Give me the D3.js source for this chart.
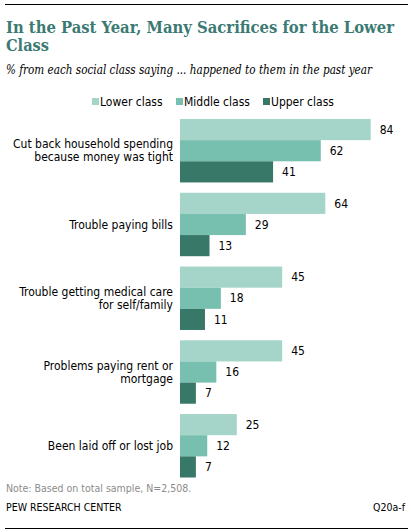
<!DOCTYPE html>
<html>
<head>
<meta charset="utf-8">
<script src="https://cdn.jsdelivr.net/npm/d3@7"></script>
<style>
  body { margin: 0; background: #fff; }
  svg text { font-family: "DejaVu Sans Condensed", "DejaVu Sans", sans-serif; }
</style>
</head>
<body>
<div id="chart"></div>
<script>
var categories = [
  ["Cut back household spending", "because money was tight"],
  ["Trouble paying bills"],
  ["Trouble getting medical care", "for self/family"],
  ["Problems paying rent or", "mortgage"],
  ["Been laid off or lost job"]
];
var seriesNames = ["Lower class", "Middle class", "Upper class"];
var lowerValues = [84, 64, 45, 45, 25];
var middleValues = [62, 29, 18, 16, 12];
var upperValues = [41, 13, 11, 7, 7];
var colors = ["#a5d4c9", "#77bfae", "#387868"];

var totalWidth = 411, totalHeight = 532;

var svg = d3.select("#chart").append("svg")
  .attr("width", totalWidth)
  .attr("height", totalHeight);

// filets haut et bas
svg.append("line").attr("x1", 5).attr("x2", 408).attr("y1", 4.5).attr("y2", 4.5)
  .attr("stroke", "#000").attr("stroke-width", 1);
svg.append("line").attr("x1", 5).attr("x2", 408).attr("y1", 528.5).attr("y2", 528.5)
  .attr("stroke", "#000").attr("stroke-width", 1);

// titre
var titre = svg.append("text")
  .attr("x", 6).attr("y", 33)
  .style("font-family", "'DejaVu Serif Condensed', 'DejaVu Serif', serif")
  .style("font-weight", "bold")
  .style("font-size", "16px")
  .style("fill", "#3b7a73");
titre.append("tspan").attr("x", 6)
  .attr("textLength", 388).attr("lengthAdjust", "spacingAndGlyphs")
  .text("In the Past Year, Many Sacrifices for the Lower");
titre.append("tspan").attr("x", 6).attr("dy", 18)
  .attr("textLength", 43).attr("lengthAdjust", "spacingAndGlyphs")
  .text("Class");

svg.append("text")
  .attr("x", 6).attr("y", 74)
  .attr("textLength", 366).attr("lengthAdjust", "spacingAndGlyphs")
  .style("font-family", "'DejaVu Serif Condensed', 'DejaVu Serif', serif")
  .style("font-style", "italic")
  .style("font-size", "12px")
  .style("fill", "#000")
  .text("% from each social class saying ... happened to them in the past year");

// légende
var legendX = [92, 176, 263];
var legende = svg.append("g").selectAll("g")
  .data(seriesNames)
  .join("g")
    .attr("transform", function(d, i) { return "translate(" + legendX[i] + ",98)"; });
legende.append("rect")
  .attr("width", 7).attr("height", 7).attr("y", 0)
  .attr("fill", function(d, i) { return colors[i]; });
legende.append("text")
  .attr("x", 8).attr("y", 7.5)
  .style("font-size", "12px")
  .style("fill", "#000")
  .text(function(d) { return d; });

// barres
var x = d3.scaleLinear().domain([0, 84]).range([180, 370.7]),
    y = d3.scaleBand().domain(d3.range(categories.length)).range([119, 477.5]).paddingInner(0.14).paddingOuter(0),
    ySub = d3.scaleBand().domain(d3.range(3)).range([0, y.bandwidth()]);

var groupes = svg.append("g").selectAll("g")
  .data(categories)
  .join("g")
    .attr("transform", function(d, i) { return "translate(0," + y(i) + ")"; });

var valeurs = [lowerValues, middleValues, upperValues];

groupes.each(function(cat, i) {
  var g = d3.select(this);
  var data = valeurs.map(function(v) { return v[i]; });
  g.selectAll("rect")
    .data(data)
    .join("rect")
      .attr("x", x(0))
      .attr("y", function(d, j) { return ySub(j); })
      .attr("width", function(d) { return x(d) - x(0); })
      .attr("height", ySub.bandwidth())
      .attr("fill", function(d, j) { return colors[j]; });
  g.selectAll(".valeur")
    .data(data)
    .join("text")
      .attr("class", "valeur")
      .attr("x", function(d) { return x(d) + 9; })
      .attr("y", function(d, j) { return ySub(j) + ySub.bandwidth() / 2; })
      .attr("dy", "0.35em")
      .style("font-size", "12px")
      .style("fill", "#000")
      .text(function(d) { return d; });

  var lineH = 13;
  var lbl = g.append("text")
    .attr("text-anchor", "end")
    .attr("x", 173)
    .attr("y", y.bandwidth() / 2 - (cat.length - 1) * lineH / 2)
    .style("font-size", "12px")
    .style("fill", "#000");
  lbl.selectAll("tspan")
    .data(cat)
    .join("tspan")
      .attr("x", 173)
      .attr("dy", function(d, k) { return k == 0 ? "0.35em" : lineH; })
      .text(function(d) { return d; });
});

// notes
svg.append("text")
  .attr("x", 6).attr("y", 492)
  .style("font-size", "10.5px")
  .style("fill", "#8c8c8c")
  .text("Note: Based on total sample, N=2,508.");
svg.append("text")
  .attr("x", 6).attr("y", 511)
  .style("font-size", "10.5px")
  .style("fill", "#000")
  .text("PEW RESEARCH  CENTER");
svg.append("text")
  .attr("x", 405).attr("y", 511)
  .attr("text-anchor", "end")
  .style("font-size", "10.5px")
  .style("fill", "#000")
  .text("Q20a-f");
</script>
</body>
</html>
